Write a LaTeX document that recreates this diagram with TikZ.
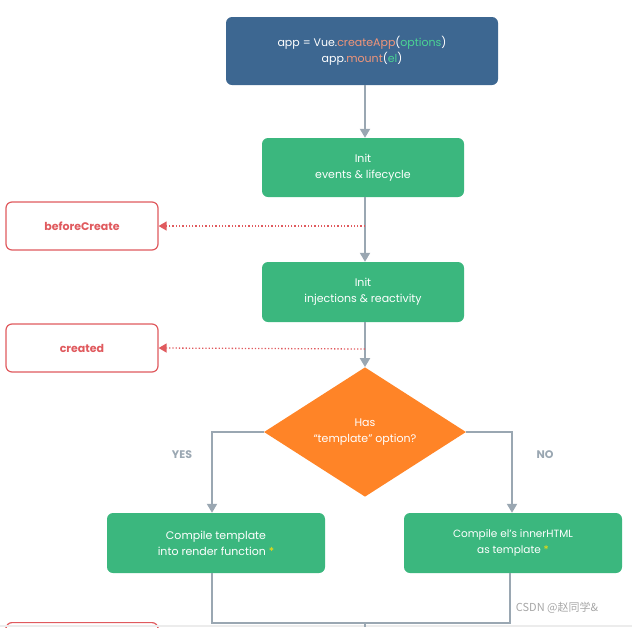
\documentclass[tikz,border=0pt]{standalone}
\usepackage{fontspec}
\setmainfont{Poppins}
\newfontfamily\cjk{Noto Sans CJK SC}
\usetikzlibrary{shapes.geometric,arrows.meta}
\definecolor{vgreen}{HTML}{3BB77E}
\definecolor{vblue}{HTML}{3D6791}
\definecolor{vred}{HTML}{E05A5E}
\definecolor{vgray}{HTML}{9AA7B2}
\definecolor{vorange}{HTML}{FF8427}
\definecolor{vsal}{HTML}{F0957A}
\definecolor{vlg}{HTML}{4BD494}
\begin{document}
\begin{tikzpicture}[x=1pt,y=-1pt,
 box/.style={rounded corners=6pt,draw=none,text=white,align=center,font=\fontsize{11}{16}\selectfont,inner sep=0pt},
 hook/.style={rounded corners=6pt,draw=vred,line width=1.2pt,fill=white,text=vred,font=\bfseries\fontsize{11}{14}\selectfont,minimum width=152pt,minimum height=48pt},
 line/.style={vgray,line width=2pt},
 arr/.style={line,-{Triangle[length=9pt,width=10pt]}},
 dot/.style={vred,line width=1.3pt,dotted,-{Triangle[length=8pt,width=9pt]}}]
\useasboundingbox (0,0) rectangle (632,627);
\node[box,fill=vblue,minimum width=272pt,minimum height=68pt] (app) at (362,51) {app = Vue.\textcolor{vsal}{createApp}(\textcolor{vlg}{options})\\app.\textcolor{vsal}{mount}(\textcolor{vlg}{el})};
\node[box,fill=vgreen,minimum width=202pt,minimum height=59pt] (i1) at (363,167.5) {Init\\events \& lifecycle};
\node[box,fill=vgreen,minimum width=202pt,minimum height=60pt] (i2) at (363,292) {Init\\injections \& reactivity};
\node[hook] (bc) at (82,226) {beforeCreate};
\node[hook] (cr) at (82,348) {created};
\node[diamond,fill=vorange,text=white,minimum width=202pt,minimum height=90pt,inner sep=0pt,align=center,font=\fontsize{11}{16}\selectfont] (d) at (365,432) {Has\\``template'' option?};
\node[box,fill=vgreen,minimum width=218pt,minimum height=60pt] (c1) at (216,543) {Compile template\\into render function \textcolor{yellow!80!orange}{*}};
\node[box,fill=vgreen,minimum width=218pt,minimum height=60pt,font=\fontsize{10.5}{16}\selectfont] (c2) at (513,543) {Compile el's innerHTML\\as template \textcolor{yellow!80!orange}{*}};
\node[hook,anchor=north,minimum height=10pt] (nx) at (82,622) {};
\fill[gray!15] (0,624.5) rectangle (632,627);
\coordinate (t1) at (365,226);
\coordinate (t2) at (365,349);
\coordinate (a0) at (365,85);
\coordinate (yl) at (212,440);
\coordinate (yr) at (512,440);
\coordinate (bl) at (212,623);
\coordinate (br) at (510,623);
\coordinate (bm) at (365,623);
\coordinate (bb) at (365,627);
\draw[arr] (a0) -- (a0 |- i1.north);
\draw[arr] (i1.south -| t1) -- (i2.north -| t1);
\draw[arr] (i2.south -| t2) -- (d.north);
\draw[dot] (t1) -- (bc.east);
\draw[dot] (t2) -- (cr.east);
\draw[line] (d.west) -| (yl);
\draw[arr] (yl) -- (yl |- c1.north);
\draw[line] (d.east) -| (yr);
\draw[arr] (yr) -- (yr |- c2.north);
\draw[line] (bl |- c1.south) -- (bl) -- (br) -- (br |- c2.south);
\draw[line] (bm) -- (bb);
\node[text=vgray,font=\bfseries\fontsize{11}{13}\selectfont] (yes) at (182,455) {YES};
\node[text=vgray,font=\bfseries\fontsize{11}{13}\selectfont] (no) at (545,455) {NO};
\node[text=gray!70,font=\cjk\fontsize{11}{13}\selectfont] (wm) at (557,608) {CSDN @赵同学\&};
\end{tikzpicture}
\end{document}
